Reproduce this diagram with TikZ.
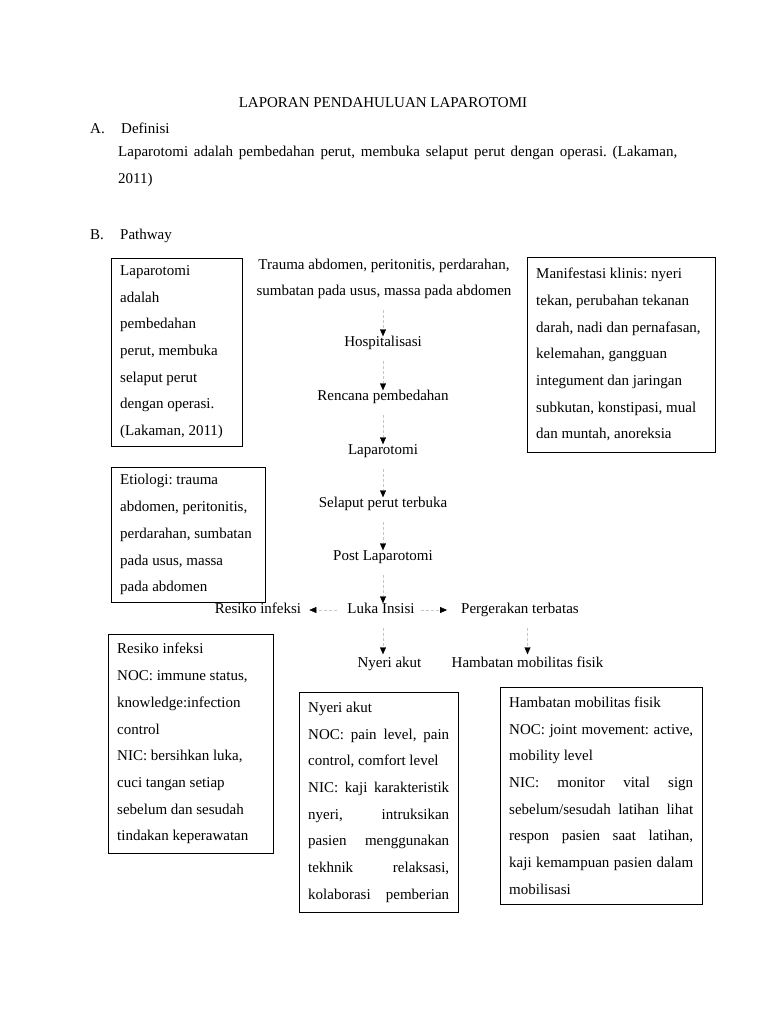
\documentclass[tikz,border=0pt]{standalone}
\usepackage{fontspec}
\setmainfont{Liberation Serif}
\usetikzlibrary{arrows.meta,positioning}
\newcommand{\jline}[1]{\makebox[\jw][s]{\spaceskip=0pt\xspaceskip=0pt #1}}
\tikzset{
  every node/.style={font=\fontsize{15}{26.7}\selectfont\frenchspacing,
    execute at begin node={\spaceskip=0pt\xspaceskip=0pt}},
  txt/.style={inner sep=0pt, text height=10pt, text depth=3pt},
  infobox/.style={draw, thin, anchor=north west, align=left, inner xsep=9pt, inner ysep=0pt,
    text width=#1, execute at begin node={\def\jw{#1}}},
  flow/.style={draw=gray!45, densely dashed, -{Triangle[length=7pt,width=6pt,color=black]}}
}

\begin{document}
\begin{tikzpicture}[x=1pt, y=-1pt]
  \useasboundingbox (0,0) rectangle (768,1024);
  % heading
  \node[txt] (title) at (383,104) {LAPORAN PENDAHULUAN LAPAROTOMI};
  \node[txt, anchor=west] (defA) at (90,130) {A.};
  \node[txt, anchor=west] (def) at (121,130) {Definisi};
  \node[anchor=north west, inner sep=0pt, text width=559pt, align=left,
    execute at begin node={\def\jw{559pt}}] (defpar) at (118,146)
    {\jline{Laparotomi adalah pembedahan perut, membuka selaput perut dengan operasi. (Lakaman,}\\ 2011)};
  \node[txt, anchor=west] (pathB) at (90,236) {B.};
  \node[txt, anchor=west] (path) at (120,236) {Pathway};

  % pathway
  \node[inner sep=0pt, align=center] (trauma) at (384,279)
    {Trauma abdomen, peritonitis, perdarahan,\\ sumbatan pada usus, massa pada abdomen};
  \node[txt] (hosp) at (383,343) {Hospitalisasi};
  \node[txt] (rencana) at (383,397) {Rencana pembedahan};
  \node[txt] (lapa) at (383,451) {Laparotomi};
  \node[txt] (selaput) at (383,504) {Selaput perut terbuka};
  \node[txt] (post) at (383,557) {Post Laparotomi};
  \node[txt] (luka) at (381,610) {Luka Insisi};
  \node[txt] (resiko) at (258,610) {Resiko infeksi};
  \node[txt] (gerak) at (520,610) {Pergerakan terbatas};
  \node[txt] (nyeri) at (389.5,664) {Nyeri akut};
  \node[txt] (hambat) at (527.5,664) {Hambatan mobilitas fisik};

  \foreach \a/\b in {trauma/hosp, hosp/rencana, rencana/lapa, lapa/selaput, selaput/post, post/luka}
    \draw[flow, shorten <=11pt] (\a.south -| hosp) -- (\b.north -| hosp);
  \draw[flow, shorten <=10pt, shorten >=8pt] (luka.west) -- (resiko.east);
  \draw[flow, shorten <=6pt, shorten >=14pt] (luka.east) -- (gerak.west);
  \draw[flow, shorten <=11pt, shorten >=3pt] (luka.south -| hosp) -- (nyeri.north -| hosp);
  \draw[flow, shorten <=11pt, shorten >=3pt] (hambat.north |- gerak.south) -- (hambat.north);

  % boxes
  \node[infobox=113pt, minimum height=188pt] (defbox) at (111,258)
    {Laparotomi\\ adalah\\ pembedahan\\ perut, membuka\\ selaput perut\\ dengan operasi.\\ (Lakaman, 2011)};
  \node[infobox=136pt, minimum height=135pt] (etiobox) at (111,467)
    {Etiologi: trauma\\ abdomen, peritonitis,\\ perdarahan, sumbatan\\ pada usus, massa\\ pada abdomen};
  \node[infobox=170pt, minimum height=195pt] (klinbox) at (527,257)
    {Manifestasi klinis: nyeri\\ tekan, perubahan tekanan\\ darah, nadi dan pernafasan,\\ kelemahan, gangguan\\ integument dan jaringan\\ subkutan, konstipasi, mual\\ dan muntah, anoreksia};
  \node[infobox=147pt, minimum height=219pt] (resbox) at (108,634)
    {Resiko infeksi\\ NOC: immune status,\\ knowledge:infection\\ control\\ NIC: bersihkan luka,\\ cuci tangan setiap\\ sebelum dan sesudah\\ tindakan keperawatan};
  \node[infobox=141pt, minimum height=220pt] (nyeribox) at (299,692)
    {Nyeri akut\\ \jline{NOC: pain level, pain}\\ control, comfort level\\ \jline{NIC: kaji karakteristik}\\
     \jline{nyeri, intruksikan}\\ \jline{pasien menggunakan}\\ \jline{tekhnik relaksasi,}\\ \jline{kolaborasi pemberian}};
  \node[infobox=184pt, minimum height=217pt] (hambox) at (500,687)
    {Hambatan mobilitas fisik\\ \jline{NOC: joint movement: active,}\\ mobility level\\ \jline{NIC: monitor vital sign}\\
     \jline{sebelum/sesudah latihan lihat}\\ \jline{respon pasien saat latihan,}\\ \jline{kaji kemampuan pasien dalam}\\ mobilisasi};
\end{tikzpicture}
\end{document}
